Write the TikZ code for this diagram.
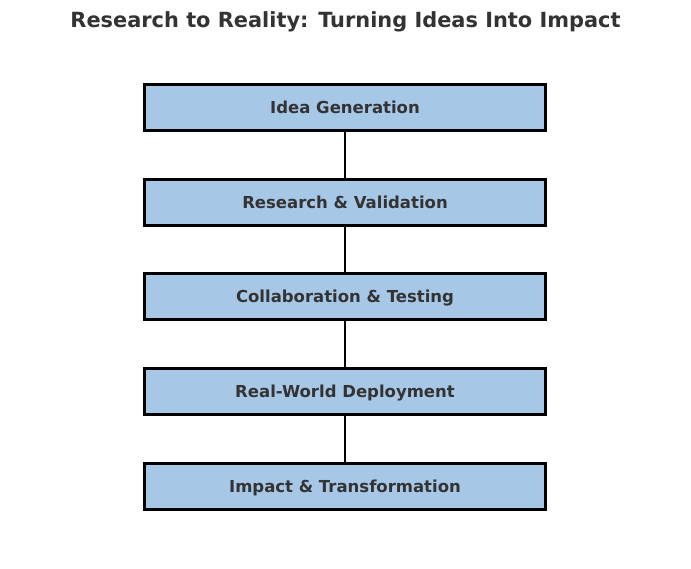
\documentclass[tikz,border=0pt]{standalone}
\usepackage{fontspec}
\setmainfont{DejaVu Sans}
\definecolor{boxfill}{HTML}{A7C7E7}
\definecolor{txt}{HTML}{333333}
\begin{document}
\begin{tikzpicture}[x=1pt,y=-1pt,
  stepbox/.style={draw=black,line width=3pt,fill=boxfill,minimum width=401pt,minimum height=46pt,inner sep=0pt,
    text height=15pt,text depth=3.4pt,
    font=\bfseries\fontsize{16.5}{20}\selectfont,text=txt},
  link/.style={line width=2pt,draw=black}]
\useasboundingbox (0,0) rectangle (691,569);
\node[font=\bfseries\fontsize{20.9}{25}\selectfont,text=txt,text height=18.5pt,text depth=4.5pt] (title) at (345.5,21) {Research to Reality: Turning Ideas Into Impact};
\node[stepbox] (s1) at (345,107.5) {Idea Generation};
\node[stepbox] (s2) at (345,202.5) {Research \& Validation};
\node[stepbox] (s3) at (345,297) {Collaboration \& Testing};
\node[stepbox] (s4) at (345,391.5) {Real-World Deployment};
\node[stepbox] (s5) at (345,486.5) {Impact \& Transformation};
\draw[link] (s1.south) -- (s2.north);
\draw[link] (s2.south) -- (s3.north);
\draw[link] (s3.south) -- (s4.north);
\draw[link] (s4.south) -- (s5.north);
\end{tikzpicture}
\end{document}
